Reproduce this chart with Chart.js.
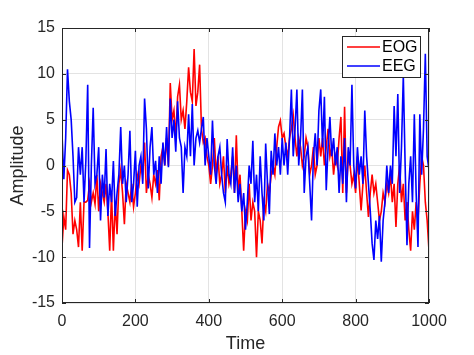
<!DOCTYPE html>
<html>
<head>
<meta charset="utf-8">
<script src="https://cdn.jsdelivr.net/npm/chart.js@4"></script>
<style>
html,body{margin:0;padding:0;background:#fff;}
#wrap{width:474px;height:355px;}
</style>
</head>
<body>
<div id="wrap"><canvas id="c" width="474" height="355"></canvas></div>
<script>
const seriesLabels = ["EOG", "EEG"];
const time = [];
for (let t = 0; t <= 1000; t += 5) time.push(t);

const eog = [
-8.9,-5.6,-7,-0.5,-1,-3,-7.5,-6,-7,-8.9,
-4,-9.3,-4,-4,-3.8,-2,-4,-3,-4.2,-1,
-5,-2,-3,-4,-2,-5,-9.3,-3,-9.3,-4,
-7.5,-2,-0.5,-3,-6.4,-2,-3,-4,-2,-4.5,
-3,-1,-2,0,-1,2.5,-3,-1,-2,-3.5,
-1,-2,-0.5,-3.8,1,2,0,3,0,9,
5,6,3,7.5,8.8,5,6,4,7,10.7,
8,7,12.7,6.5,8,11,4,2.5,3,1,
0,-2,0,3,-1,1,-2,-1,1,-3,
0,-2,-1,1,-3,3.3,-3,-1,-5,-9.3,
-5,-6,-2,-6,-4,-5,-10,-5,-6,-8.5,
-4,-5,-2,-3,-1,0,-1,2,4.2,4.9,
3,3.5,2,1,3,4,5.5,3,1,3,
2,0,1,3,2,-1,0,2,-1,0,
3,1,3,0,2,4,1,2,-1,1,
0,3,5.3,-3,6.4,-3,1,0,-2,-1,
-3,1,-2,-4.9,-2,0,-3,-5.6,-3,-1,
-3,-2,-4,-6,-5,-3,-4,-2,-3,-1,
-4,-2,-6.7,-2,0,-4,-2,-6,-4,-7,
-9.3,-5,-7,-4,-6,-2,1,0,-4,-6,
-9.3
];

const eeg = [
3.5,-1.5,3,10.5,7,5,1,-4,-3.5,2,
-1,2,-4,0.5,8.8,-9,0,6.3,-2,-1,
2,-6,-1,-3.5,1.8,-5.5,-2,-4,0.5,-5.5,
-3,-1,4.2,-2,0,-4,-1,3.8,-4,-2,
1.6,-4.5,0,1,-2,7.3,4,-2.5,2,4.2,
-1,0.5,-3,1,-2,2.5,0,4.2,-0.2,7.3,
3,5,1.5,7,3,2,-3,2,1,5.6,
1,6.7,0,3,3.8,2.5,4,5.3,0,3,
1,-1,4.9,0,-2,1,2,-1,-3,-4,
2.9,-1,-2,2,-3,0,-4,-2,-5,-3,
-7,-4,0,-2,2.7,-4,-1,-5,1,-3,
-6,2.4,-2,-5.3,1.6,-1,3.5,0,2,-1,
3,0,2.5,-1,3,8.3,1,4,8.3,0,
3,8.3,-3,1,2,-2,-6,1,3.5,0,
6,8.3,2,7.5,-2.7,2,5.3,1,3,0,
2,-3,1,-2,3,-4,2,0,8.8,0,
-2.5,2,-1,1,-2,6,1,-2,-5,-8.5,
-10.3,-6,-8,-5.5,-10.5,-6,-4,0,-3,0,
-2,6.5,1,7.8,-3,2,9.8,0,-8.7,-2,
1,-4,5.6,-3,-8.9,5.6,-1,4,12.2,1,
-0.5
];

const xTicks = [0, 200, 400, 600, 800, 1000];
const yTicks = [-15, -10, -5, 0, 5, 10, 15];

const toPts = arr => arr.map((v, i) => ({x: time[i], y: v}));
const FONT = "'Liberation Sans', Arial, sans-serif";
const TXT = '#262626';

const boxPlugin = {
  id: 'box',
  afterDraw(chart) {
    const {ctx, chartArea: a} = chart;
    ctx.save();
    ctx.strokeStyle = '#262626';
    ctx.lineWidth = 1;
    ctx.strokeRect(a.left + 0.5, a.top + 0.5, a.right - a.left - 1, a.bottom - a.top - 1);
    const xs = chart.scales.x, ys = chart.scales.y;
    ctx.beginPath();
    xTicks.forEach(t => {
      const px = Math.round(xs.getPixelForValue(t)) + 0.5;
      ctx.moveTo(px, a.bottom); ctx.lineTo(px, a.bottom - 4);
      ctx.moveTo(px, a.top); ctx.lineTo(px, a.top + 4);
    });
    yTicks.forEach(t => {
      const py = Math.round(ys.getPixelForValue(t)) + 0.5;
      ctx.moveTo(a.left, py); ctx.lineTo(a.left + 4, py);
      ctx.moveTo(a.right, py); ctx.lineTo(a.right - 4, py);
    });
    ctx.stroke();
    const lx = 342, ly = 36, lw = 78, lh = 41;
    ctx.fillStyle = '#fff';
    ctx.fillRect(lx, ly, lw, lh);
    ctx.strokeStyle = '#262626';
    ctx.strokeRect(lx + 0.5, ly + 0.5, lw, lh);
    ctx.font = '16px ' + FONT;
    ctx.textBaseline = 'middle';
    chart.data.datasets.forEach((ds, i) => {
      const cy = ly + 11 + i * 19;
      ctx.strokeStyle = ds.borderColor;
      ctx.lineWidth = 1.5;
      ctx.beginPath();
      ctx.moveTo(lx + 5, cy); ctx.lineTo(lx + 38, cy);
      ctx.stroke();
      ctx.fillStyle = '#000';
      ctx.fillText(ds.label, lx + 40, cy + 1);
    });
    ctx.restore();
  }
};

new Chart(document.getElementById('c'), {
  type: 'line',
  data: {
    datasets: [
      {label: seriesLabels[0], data: toPts(eog), borderColor: '#ff0000', borderWidth: 1.6, pointRadius: 0, tension: 0, order: 1},
      {label: seriesLabels[1], data: toPts(eeg), borderColor: '#0000ff', borderWidth: 1.6, pointRadius: 0, tension: 0, order: 0}
    ]
  },
  options: {
    responsive: false,
    animation: false,
    layout: {padding: {left: 7, right: 45, top: 28, bottom: 0}},
    plugins: {legend: {display: false}, tooltip: {enabled: false}},
    scales: {
      x: {
        type: 'linear', min: 0, max: 1000,
        afterBuildTicks: s => { s.ticks = xTicks.map(v => ({value: v})); },
        afterFit: s => { s.height = 52; },
        grid: {color: '#e3e3e3', drawTicks: false},
        border: {display: false},
        ticks: {font: {size: 16, family: FONT}, color: TXT, padding: 9, maxRotation: 0, callback: v => String(v)},
        title: {display: true, text: 'Time', font: {size: 18, family: FONT}, color: TXT, padding: {top: 0, bottom: 0}}
      },
      y: {
        min: -15, max: 15,
        afterBuildTicks: s => { s.ticks = yTicks.map(v => ({value: v})); },
        afterFit: s => { s.width = 55; },
        grid: {color: '#e3e3e3', drawTicks: false},
        border: {display: false},
        ticks: {font: {size: 16, family: FONT}, color: TXT, padding: 7, callback: v => String(v)},
        title: {display: true, text: 'Amplitude', font: {size: 18, family: FONT}, color: TXT, padding: {top: 0, bottom: 2}}
      }
    }
  },
  plugins: [boxPlugin]
});
</script>
</body>
</html>
